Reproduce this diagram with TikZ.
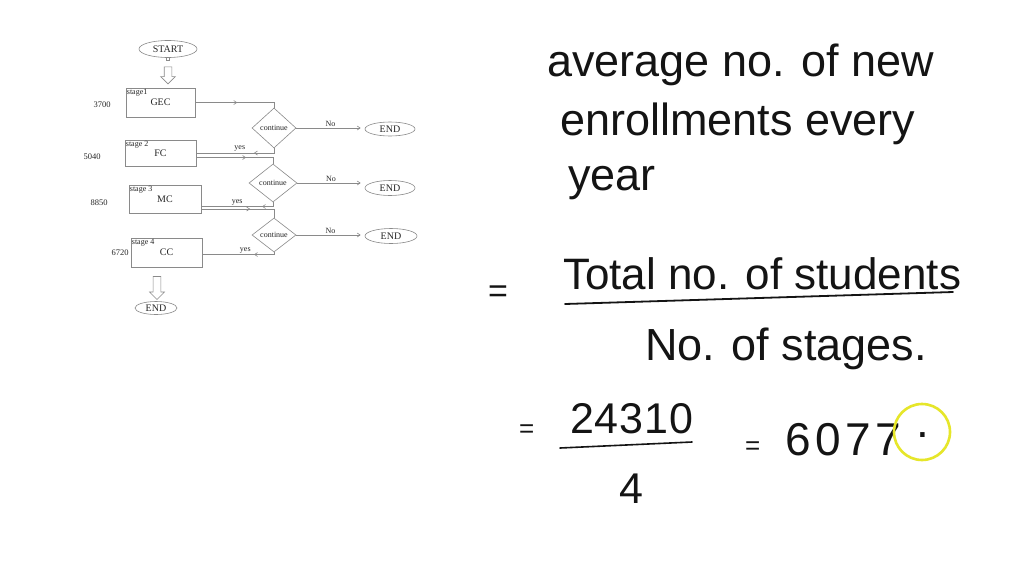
\documentclass[tikz,border=0pt]{standalone}
\usepackage{fontspec}
\setmainfont{Liberation Serif}
\newfontfamily\hand{Liberation Sans}
\usetikzlibrary{shapes.geometric,shapes.arrows,decorations.markings,arrows.meta,calc}
\definecolor{lgray}{HTML}{8A8A8A}
\definecolor{tgray}{HTML}{262626}
\definecolor{ink}{HTML}{141414}
\definecolor{hilite}{HTML}{E6E62A}
\begin{document}
\begin{tikzpicture}[x=1pt,y=-1pt,
  fc/.style={draw=lgray, line width=0.6pt},
  box/.style={fc, rectangle, inner sep=0pt, text=tgray, font=\fontsize{10}{11}\selectfont},
  stg/.style={anchor=north west, inner sep=1pt, text=tgray, font=\fontsize{8}{9}\selectfont},
  num/.style={text=tgray, inner sep=0pt, font=\fontsize{8.5}{9}\selectfont},
  dec/.style={fc, diamond, inner sep=0pt, text=tgray, font=\fontsize{8}{9}\selectfont},
  term/.style={fc, ellipse, inner sep=0pt, text=tgray, font=\fontsize{10}{11}\selectfont},
  lab/.style={text=tgray, inner sep=1pt, font=\fontsize{8}{9}\selectfont},
  hollow/.style={fc, single arrow, shape border rotate=270, inner sep=3.5pt, single arrow head extend=3.5pt},
  tip/.style={-{Straight Barb[length=3pt,width=4pt]}},
  midarrow/.style={decoration={markings, mark=at position #1 with {\arrow{Straight Barb[length=3pt,width=4pt]}}}, postaction=decorate},
  hw/.style={anchor=base west, inner sep=0pt, text=ink, font=\hand\fontsize{45}{50}\selectfont},
]
\useasboundingbox (0,0) rectangle (1024,576);
\fill[white] (0,0) rectangle (1024,576);

% ---------- flowchart ----------
\node[term, minimum width=58pt, minimum height=17pt] (start) at (168,49) {START};
\node[draw=lgray, line width=0.4pt, minimum size=3pt, inner sep=0pt] (dot) at (168,59) {};
\node[hollow, minimum height=17pt, minimum width=14pt] (ha1) at (168,73.5) {};

\node[box, minimum width=69pt, minimum height=29pt] (b1) at (160.5,102.5) {\raisebox{-2pt}{GEC}};
\node[stg] (s1) at (b1.north west) {stage1};
\node[box, minimum width=71pt, minimum height=26pt] (b2) at (160.5,153) {\raisebox{-2pt}{FC}};
\node[stg] (s2) at (b2.north west) {stage 2};
\node[box, minimum width=72pt, minimum height=28pt] (b3) at (165,199) {\raisebox{-2pt}{MC}};
\node[stg] (s3) at (b3.north west) {stage 3};
\node[box, minimum width=71pt, minimum height=29pt] (b4) at (166.5,252.5) {\raisebox{-2pt}{CC}};
\node[stg] (s4) at (b4.north west) {stage 4};

\node[num] (n1) at (102,105) {3700};
\node[num] (n2) at (92,157) {5040};
\node[num] (n3) at (99,203) {8850};
\node[num] (n4) at (120,253) {6720};

\node[dec, minimum width=44pt, minimum height=40pt] (d1) at (274,128) {continue};
\node[dec, minimum width=48pt, minimum height=38pt] (d2) at (273,183) {continue};
\node[dec, minimum width=44pt, minimum height=34pt] (d3) at (274,235) {continue};

\node[term, minimum width=50pt, minimum height=14pt] (e1) at (390,129) {END};
\node[term, minimum width=50pt, minimum height=15pt] (e2) at (390,188) {END};
\node[term, minimum width=52pt, minimum height=15pt] (e3) at (391,236) {END};

\node[hollow, minimum height=23pt, minimum width=15pt] (ha2) at (157,286) {};
\node[term, minimum width=42pt, minimum height=13pt] (e4) at (156,308) {END};

% connectors
\draw[fc, midarrow=0.5] (b1.east) -| (d1.north);
\draw[fc, tip, shorten >=4pt] (d1.east) -- node[lab, above] {No} (d1.east -| e1.west);
\draw[fc, midarrow=0.3] (d1.south) |- (b2.east) node[lab, pos=0.72, above] {yes};
\draw[fc, midarrow=0.6] ($(b2.east)+(0,4.5)$) -| (d2.north);

\draw[fc, tip, shorten >=4pt] (d2.east) -- node[lab, above] {No} (d2.east -| e2.west);
\draw[fc, midarrow=0.2] (d2.south) |- ($(b3.east)+(0,7.5)$) node[lab, pos=0.75, above] {yes};
\draw[fc, midarrow=0.6] ($(b3.east)+(0,10)$) -| (d3.north);

\draw[fc, tip, shorten >=4pt] (d3.east) -- node[lab, above] {No} (d3.east -| e3.west);
\draw[fc, midarrow=0.3] (d3.south) |- ($(b4.east)+(0,2)$) node[lab, pos=0.7, above] {yes};

% ---------- handwritten working ----------
\node[hw] (l1) at (547,76) {average no. of new};
\node[hw] (l2) at (560,135) {enrollments every};
\node[hw] (l3) at (568,190) {year};
\node[hw, font=\hand\fontsize{34}{36}\selectfont] (eq1) at (488,302) {=};
\node[hw, font=\hand\fontsize{44}{50}\selectfont] (l4) at (563,289) {Total no. of students};
\draw[ink, line width=1.8pt, line cap=round] (565,304) -- (953,292);
\node[hw] (l5) at (645,360) {No. of stages.};
\node[hw, font=\hand\fontsize{26}{30}\selectfont] (eq2) at (519,437) {=};
\node[hw, font=\hand\fontsize{43}{46}\selectfont\addfontfeature{LetterSpace=2}] (num) at (570,433) {24310};
\draw[ink, line width=1.6pt, line cap=round] (560,448) -- (692,442);
\node[hw, font=\hand\fontsize{43}{46}\selectfont] (den) at (619,503) {4};
\node[hw, font=\hand\fontsize{26}{30}\selectfont] (eq3) at (745,454) {=};
\node[hw, font=\hand\fontsize{46}{50}\selectfont\addfontfeature{LetterSpace=10}] (res) at (785,455) {6077};
\node[hw, font=\hand\fontsize{46}{50}\selectfont] (pt) at (916,437) {.};
\draw[hilite, line width=2.6pt] (922,432) circle (28);
\end{tikzpicture}
\end{document}
